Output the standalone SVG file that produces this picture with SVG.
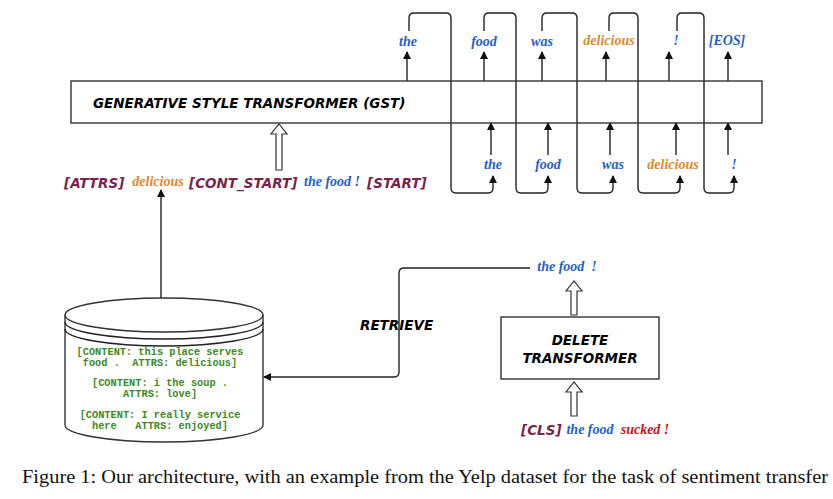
<svg xmlns="http://www.w3.org/2000/svg" width="833" height="499" viewBox="0 0 833 499">
<style>
.ln{fill:none;stroke:#222;stroke-width:1.4}
.box{fill:#fff;stroke:#333;stroke-width:1.4}
.hl{fill:#fff;stroke:#333;stroke-width:1.2}
.w{font-family:"Liberation Serif",serif;font-style:italic;font-weight:bold;font-size:14px;text-anchor:middle}
.b{fill:#1f5fc8}.o{fill:#e0892a}.p{fill:#7a2348}.r{fill:#c8141e}
.s{font-family:"DejaVu Sans",sans-serif;font-style:italic;font-weight:bold;font-size:13.5px}
.m{font-family:"Liberation Mono",monospace;font-weight:bold;font-size:10.3px;fill:#3a8a1e;text-anchor:middle;white-space:pre}
</style>
<defs>
<marker id="ah" markerWidth="8" markerHeight="8" refX="7" refY="4" orient="auto" markerUnits="userSpaceOnUse"><path d="M0,0 L8,4 L0,8 z" fill="#111"/></marker>
</defs>
<g id="connectors">
<path class="ln" d="M409,31 V18 Q409,13 414,13 H446 Q451,13 451,18 V188 Q451,193 456,193 H488 Q493,193 493,188 V176" marker-end="url(#ah)"/>
<path class="ln" d="M484,31 V18 Q484,13 489,13 H511 Q516,13 516,18 V188 Q516,193 521,193 H543 Q548,193 548,188 V176" marker-end="url(#ah)"/>
<path class="ln" d="M542,31 V18 Q542,13 547,13 H572 Q577,13 577,18 V188 Q577,193 582,193 H608 Q613,193 613,188 V176" marker-end="url(#ah)"/>
<path class="ln" d="M609,31 V18 Q609,13 614,13 H633 Q638,13 638,18 V188 Q638,193 643,193 H675 Q680,193 680,188 V176" marker-end="url(#ah)"/>
<path class="ln" d="M677,31 V18 Q677,13 682,13 H699 Q704,13 704,18 V188 Q704,193 709,193 H729 Q734,193 734,188 V176" marker-end="url(#ah)"/>
<path class="ln" d="M407,81 V52" marker-end="url(#ah)"/>
<path class="ln" d="M484,81 V52" marker-end="url(#ah)"/>
<path class="ln" d="M542,81 V52" marker-end="url(#ah)"/>
<path class="ln" d="M606,81 V52" marker-end="url(#ah)"/>
<path class="ln" d="M669,81 V52" marker-end="url(#ah)"/>
<path class="ln" d="M728,81 V52" marker-end="url(#ah)"/>
<path class="ln" d="M491,155 V123" marker-end="url(#ah)"/>
<path class="ln" d="M548,155 V123" marker-end="url(#ah)"/>
<path class="ln" d="M610,155 V123" marker-end="url(#ah)"/>
<path class="ln" d="M676,155 V123" marker-end="url(#ah)"/>
<path class="ln" d="M728,155 V123" marker-end="url(#ah)"/>
<path class="ln" d="M161,305 V190" marker-end="url(#ah)"/>
<path class="ln" d="M530,268 H404 Q399,268 399,273 V372 Q399,377 394,377 H264" marker-end="url(#ah)"/>
<path class="hl" d="M276,170 V134 H271 L279,124 L287,134 H282 V170 Z"/>
<path class="hl" d="M571,315 V291 H566 L574,281 L582,291 H577 V315 Z"/>
<path class="hl" d="M571,416 V392 H566 L574,382 L582,392 H577 V416 Z"/>
</g>
<g id="gst">
<rect class="box" x="71" y="81" width="691" height="42" fill-opacity="0"/>
<text class="s" x="93" y="108" font-size="15">GENERATIVE STYLE TRANSFORMER (GST)</text>
</g>
<g id="outputs">
<text class="w b" x="408" y="46">the</text>
<text class="w b" x="484" y="46">food</text>
<text class="w b" x="542" y="46">was</text>
<text class="w o" x="609" y="45">delicious</text>
<text class="w b" x="676" y="45">!</text>
<text class="w b" x="727" y="45">[EOS]</text>
</g>
<g id="inputs">
<text class="w b" x="493" y="169">the</text>
<text class="w b" x="548" y="169">food</text>
<text class="w b" x="613" y="169">was</text>
<text class="w o" x="673" y="169">delicious</text>
<text class="w b" x="734" y="169">!</text>
</g>
<g id="prompt">
<text class="s p" x="64" y="188" font-size="13">[ATTRS]</text>
<text class="w o" x="158" y="186">delicious</text>
<text class="s p" x="189" y="188" font-size="13">[CONT_START]</text>
<text class="w b" x="332" y="186">the food !</text>
<text class="s p" x="367" y="188" font-size="13">[START]</text>
</g>
<g id="database">
<path class="box" d="M65,315 V425 A99,17 0 0 0 263,425 V315"/>
<ellipse class="box" cx="164" cy="315" rx="99" ry="17"/>
<path class="ln" d="M65,322 A99,17 0 0 0 263,322 M65,329 A99,17 0 0 0 263,329"/>
<text class="m" x="160" y="355">[CONTENT: this place serves</text>
<text class="m" x="160" y="366">food .  ATTRS: delicious]</text>
<text class="m" x="160" y="386">[CONTENT: i the soup .</text>
<text class="m" x="160" y="397">ATTRS: love]</text>
<text class="m" x="160" y="418">[CONTENT: I really service</text>
<text class="m" x="160" y="429">here   ATTRS: enjoyed]</text>
</g>
<g id="retrieve"><text class="s" x="360" y="330">RETRIEVE</text></g>
<g id="delete">
<rect class="box" x="501" y="317" width="158" height="62"/>
<text class="s" x="580" y="345" text-anchor="middle">DELETE</text>
<text class="s" x="580" y="363" text-anchor="middle">TRANSFORMER</text>
</g>
<g id="dt-out"><text class="w b" x="567" y="271" style="white-space:pre">the food  !</text></g>
<g id="dt-in">
<text class="s p" x="521" y="435">[CLS]</text>
<text class="w b" x="590" y="434">the food</text>
<text class="w r" x="645" y="434">sucked !</text>
</g>
<text x="22" y="483" font-family="Liberation Serif,serif" font-size="18" textLength="806" lengthAdjust="spacingAndGlyphs" fill="#111">Figure 1: Our architecture, with an example from the Yelp dataset for the task of sentiment transfer</text>
</svg>
